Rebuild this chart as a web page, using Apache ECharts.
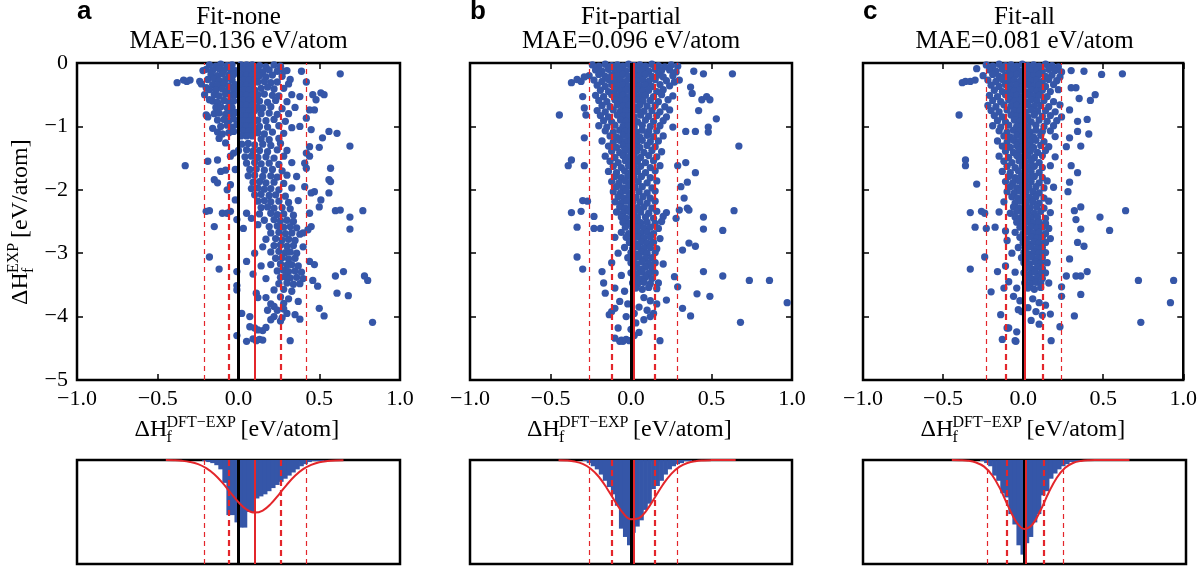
<!DOCTYPE html>
<html>
<head>
<meta charset="utf-8">
<script src="https://cdn.jsdelivr.net/npm/echarts/dist/echarts.min.js"></script>
<style>
  html, body { margin: 0; padding: 0; background: #fff; }
  #chart { width: 1200px; height: 566px; }
</style>
</head>
<body>
<div id="chart"></div>
<script>
// panel headings
const letters = ['a', 'b', 'c'];
const fitNames = ['Fit-none', 'Fit-partial', 'Fit-all'];
const maeLabels = ['MAE=0.136 eV/atom', 'MAE=0.096 eV/atom', 'MAE=0.081 eV/atom'];

// fitted mean and the +-1 / +-2 sigma lines
const meanLine = [0.105, 0.017, 0.005];
const innerDash = [[-0.055, 0.26], [-0.12, 0.153], [-0.11, 0.123]];
const outerDash = [[-0.21, 0.416], [-0.255, 0.288], [-0.23, 0.24]];

// tick labels
const xTickText = ['\u22121.0', '\u22120.5', '0.0', '0.5', '1.0'];
const yTickText = ['\u22125', '\u22124', '\u22123', '\u22122', '\u22121', '0'];

// ---- panel a : Fit-none ----
const aLeft = [[-0.18,-0.03],[-0.14,-0.05],[-0.11,-0.02],[-0.07,-0.04],[-0.04,-0.03],
  [-0.2,-0.1],[-0.16,-0.12],[-0.12,-0.09],[-0.09,-0.11],[-0.05,-0.1],[-0.02,-0.12],
  [-0.17,-0.18],[-0.13,-0.2],[-0.1,-0.17],[-0.06,-0.19],[-0.03,-0.18],
  [-0.19,-0.26],[-0.15,-0.25],[-0.12,-0.28],[-0.08,-0.26],[-0.04,-0.27],
  [-0.16,-0.34],[-0.13,-0.35],[-0.09,-0.33],[-0.06,-0.36],[-0.02,-0.34],
  [-0.18,-0.42],[-0.14,-0.43],[-0.1,-0.41],[-0.07,-0.44],[-0.03,-0.42],
  [-0.15,-0.5],[-0.12,-0.52],[-0.08,-0.49],[-0.05,-0.51],[-0.02,-0.5],
  [-0.16,-0.6],[-0.13,-0.62],[-0.09,-0.59],[-0.06,-0.61],[-0.03,-0.6],
  [-0.14,-0.7],[-0.11,-0.69],[-0.07,-0.71],[-0.04,-0.7],
  [-0.15,-0.8],[-0.12,-0.79],[-0.08,-0.81],[-0.05,-0.8],[-0.02,-0.78],
  [-0.13,-0.9],[-0.09,-0.89],[-0.06,-0.91],[-0.03,-0.88],
  [-0.11,-1.0],[-0.07,-0.98],[-0.04,-1.01],[-0.01,-0.97],[-0.06,-1.1],[-0.03,-1.08]];
const aCore = [[0.015,-0.03],[0.05,-0.03],[0.085,-0.03],[0.03,-0.11],[0.065,-0.11],[0.1,-0.11],
  [0.015,-0.19],[0.05,-0.19],[0.085,-0.19],[0.03,-0.27],[0.065,-0.27],[0.1,-0.27],
  [0.015,-0.35],[0.05,-0.35],[0.085,-0.35],[0.03,-0.43],[0.065,-0.43],[0.1,-0.43],
  [0.015,-0.51],[0.05,-0.51],[0.085,-0.51],[0.03,-0.59],[0.065,-0.59],[0.1,-0.59],
  [0.015,-0.67],[0.05,-0.67],[0.085,-0.67],[0.03,-0.75],[0.065,-0.75],[0.1,-0.75],
  [0.015,-0.83],[0.05,-0.83],[0.085,-0.83],[0.03,-0.91],[0.065,-0.91],[0.1,-0.91],
  [0.015,-0.99],[0.05,-0.99],[0.085,-0.99],[0.03,-1.07],[0.065,-1.07],[0.1,-1.07],
  [0.015,-1.15],[0.05,-1.15],[0.085,-1.15]];
const aRight = [[0.13,-0.04],[0.17,-0.06],[0.22,-0.03],[0.26,-0.05],
  [0.12,-0.12],[0.15,-0.14],[0.19,-0.11],[0.24,-0.13],[0.3,-0.12],
  [0.13,-0.2],[0.17,-0.22],[0.21,-0.19],[0.27,-0.21],
  [0.12,-0.3],[0.16,-0.29],[0.2,-0.31],[0.24,-0.3],[0.31,-0.33],
  [0.14,-0.4],[0.18,-0.38],[0.22,-0.41],[0.28,-0.4],
  [0.12,-0.5],[0.16,-0.49],[0.21,-0.51],[0.25,-0.52],[0.33,-0.5],
  [0.13,-0.6],[0.18,-0.62],[0.23,-0.59],[0.3,-0.61],
  [0.12,-0.7],[0.15,-0.71],[0.2,-0.69],[0.27,-0.72],[0.35,-0.7],
  [0.14,-0.8],[0.19,-0.79],[0.24,-0.81],[0.31,-0.8],
  [0.12,-0.9],[0.17,-0.91],[0.22,-0.89],[0.29,-0.92],
  [0.13,-1.0],[0.18,-1.01],[0.25,-0.99],[0.33,-1.02],
  [0.12,-1.1],[0.16,-1.12],[0.21,-1.09],[0.28,-1.11],
  [0.14,-1.2],[0.19,-1.21],[0.25,-1.19]];
const aBand = [[0.02,-1.28],[0.06,-1.27],[0.1,-1.29],[0.15,-1.28],[0.2,-1.3],[0.26,-1.27],
  [0.0,-1.38],[0.05,-1.37],[0.09,-1.39],[0.13,-1.38],[0.18,-1.4],[0.24,-1.37],[0.3,-1.38],
  [0.04,-1.48],[0.08,-1.47],[0.12,-1.49],[0.17,-1.48],[0.22,-1.5],[0.28,-1.47],
  [0.05,-1.58],[0.1,-1.57],[0.14,-1.59],[0.19,-1.58],[0.25,-1.6],[0.33,-1.57],
  [0.07,-1.68],[0.11,-1.67],[0.16,-1.69],[0.21,-1.68],[0.27,-1.7],
  [0.06,-1.78],[0.1,-1.77],[0.15,-1.79],[0.2,-1.78],[0.24,-1.8],[0.3,-1.77],[0.36,-1.79],
  [0.09,-1.88],[0.13,-1.87],[0.17,-1.89],[0.22,-1.88],[0.28,-1.9],
  [0.08,-1.98],[0.12,-1.97],[0.16,-1.99],[0.2,-1.98],[0.25,-2.0],[0.33,-1.97],
  [0.1,-2.08],[0.14,-2.07],[0.19,-2.09],[0.23,-2.08],[0.29,-2.1],
  [0.12,-2.18],[0.16,-2.17],[0.2,-2.19],[0.25,-2.18],[0.31,-2.2],[0.37,-2.17],
  [0.14,-2.28],[0.18,-2.27],[0.22,-2.29],[0.27,-2.28],[0.32,-2.3],
  [0.13,-2.38],[0.2,-2.37],[0.24,-2.39],[0.28,-2.38],[0.34,-2.4]];
const aLow = [[0.16,-2.48],[0.22,-2.47],[0.26,-2.49],[0.3,-2.48],[0.34,-2.5],
  [0.19,-2.58],[0.24,-2.57],[0.28,-2.59],[0.32,-2.58],[0.36,-2.6],
  [0.2,-2.68],[0.25,-2.67],[0.29,-2.69],[0.33,-2.68],[0.38,-2.7],
  [0.17,-2.78],[0.23,-2.77],[0.27,-2.79],[0.31,-2.78],[0.35,-2.8],
  [0.22,-2.88],[0.26,-2.87],[0.3,-2.89],[0.34,-2.88],[0.4,-2.9],
  [0.2,-2.98],[0.25,-2.97],[0.29,-2.99],[0.32,-2.98],[0.36,-3.0],
  [0.23,-3.08],[0.27,-3.07],[0.31,-3.09],[0.35,-3.08],
  [0.2,-3.18],[0.26,-3.17],[0.3,-3.19],[0.33,-3.18],[0.37,-3.2],
  [0.24,-3.28],[0.28,-3.27],[0.31,-3.29],[0.35,-3.28],[0.39,-3.3],
  [0.26,-3.38],[0.29,-3.37],[0.32,-3.39],[0.36,-3.38],[0.4,-3.4],
  [0.25,-3.48],[0.3,-3.47],[0.34,-3.49],[0.38,-3.48],
  [0.22,-3.58],[0.28,-3.57],[0.33,-3.6],[0.17,-3.7],[0.26,-3.69],[0.31,-3.72],
  [0.2,-3.8],[0.28,-3.79],[0.12,-2.55],[0.15,-2.9],[0.1,-3.0],[0.14,-3.2],[0.17,-3.4],[0.12,-3.7]];
const aOut = [[-0.38,-0.31],[-0.34,-0.27],[-0.32,-0.29],[-0.3,-0.27],[-0.24,-0.29],[-0.23,-0.33],
  [-0.22,-0.12],[-0.2,-0.39],[-0.21,-0.5],[-0.18,-0.58],[-0.2,-0.82],[-0.19,-0.85],[-0.16,-1.03],
  [-0.13,-1.09],[-0.12,-1.19],[-0.1,-1.12],[-0.08,-1.26],
  [-0.33,-1.62],[-0.19,-1.55],[-0.13,-1.53],[-0.11,-1.71],[-0.08,-1.69],[-0.05,-1.47],[-0.03,-1.42],
  [-0.02,-1.68],[-0.15,-1.84],[-0.13,-1.89],[-0.07,-2.0],[-0.05,-1.92],[-0.2,-2.34],[-0.18,-2.33],
  [-0.15,-2.58],[-0.1,-2.37],[-0.07,-2.37],[-0.05,-2.34],[-0.02,-2.16],[-0.01,-2.47],[0.03,-2.61],
  [0.05,-2.37],[0.08,-2.45],[-0.18,-3.06],[-0.12,-3.25],[-0.01,-3.29],[-0.01,-3.51],[-0.01,-3.58],
  [0.05,-3.13],[0.09,-3.33],[0.11,-3.63],
  [0.02,-3.95],[0.07,-4.0],[0.07,-4.16],[0.09,-4.35],[0.11,-4.38],[0.13,-4.36],[0.15,-4.37],
  [-0.01,-4.3],[0.05,-4.39],[0.1,-4.18],[0.15,-4.22],[0.17,-4.17],[0.22,-3.84],[0.22,-4.0],
  [0.26,-4.07],[0.27,-4.02],[0.32,-4.38],[0.3,-3.95],[0.35,-3.97],[0.37,-3.76],[0.38,-4.04],
  [0.12,-4.21],[0.18,-3.9],[0.2,-4.05],[0.24,-3.9],[0.28,-3.88],
  [0.28,-0.13],[0.32,-0.26],[0.39,-0.13],[0.42,-0.3],[0.38,-0.53],[0.46,-0.5],[0.48,-0.58],
  [0.51,-0.47],[0.53,-0.5],[0.44,-0.74],[0.47,-0.74],[0.42,-0.87],[0.38,-1.0],[0.45,-1.05],
  [0.52,-1.18],[0.56,-1.08],[0.61,-1.11],[0.63,-0.17],[0.69,-1.31],[0.44,-1.32],[0.5,-1.33],
  [0.42,-1.42],[0.41,-1.58],[0.42,-1.66],[0.44,-1.47],[0.56,-1.84],[0.57,-1.66],[0.57,-1.87],
  [0.56,-2.05],[0.47,-2.03],[0.51,-2.16],[0.5,-2.27],[0.45,-2.05],[0.41,-1.95],[0.6,-2.33],
  [0.63,-2.32],[0.69,-2.43],[0.69,-2.62],[0.77,-2.33],[0.44,-2.37],[0.45,-2.58],[0.43,-2.63],
  [0.4,-2.68],[0.44,-3.13],[0.46,-3.43],[0.5,-3.87],[0.53,-3.99],[0.6,-3.36],[0.61,-3.63],
  [0.65,-3.29],[0.68,-3.67],[0.78,-3.36],[0.8,-3.43],[0.83,-4.09],[0.49,-3.52],[0.47,-3.18]];

// ---- panel b : Fit-partial ----
const bTop = [[-0.24,-0.03],[-0.2,-0.05],[-0.16,-0.02],[-0.12,-0.04],[-0.085,-0.03],[-0.05,-0.05],[-0.015,-0.02],[0.02,-0.04],[0.055,-0.03],[0.09,-0.05],[0.13,-0.02],[0.17,-0.04],[0.21,-0.06],[0.25,-0.03],[0.29,-0.05],
  [-0.22,-0.11],[-0.18,-0.13],[-0.14,-0.1],[-0.1,-0.12],[-0.065,-0.11],[-0.03,-0.13],[0.005,-0.1],[0.04,-0.12],[0.075,-0.11],[0.11,-0.13],[0.15,-0.1],[0.19,-0.12],[0.24,-0.11],[0.28,-0.14],
  [-0.26,-0.2],[-0.2,-0.18],[-0.16,-0.21],[-0.12,-0.19],[-0.085,-0.2],[-0.05,-0.18],[-0.015,-0.21],[0.02,-0.19],[0.055,-0.2],[0.09,-0.18],[0.13,-0.21],[0.17,-0.19],[0.2,-0.22],[0.26,-0.2],
  [-0.23,-0.27],[-0.18,-0.29],[-0.14,-0.26],[-0.1,-0.28],[-0.065,-0.27],[-0.03,-0.29],[0.005,-0.26],[0.04,-0.28],[0.075,-0.27],[0.11,-0.29],[0.15,-0.26],[0.22,-0.28],[0.27,-0.3],
  [-0.21,-0.35],[-0.16,-0.37],[-0.12,-0.34],[-0.085,-0.36],[-0.05,-0.35],[-0.015,-0.37],[0.02,-0.34],[0.055,-0.36],[0.09,-0.35],[0.13,-0.37],[0.18,-0.34],[0.24,-0.36],
  [-0.19,-0.43],[-0.14,-0.45],[-0.1,-0.42],[-0.065,-0.44],[-0.03,-0.43],[0.005,-0.45],[0.04,-0.42],[0.075,-0.44],[0.11,-0.43],[0.16,-0.45],[0.2,-0.42],
  [-0.22,-0.51],[-0.17,-0.53],[-0.12,-0.5],[-0.085,-0.52],[-0.05,-0.51],[-0.015,-0.53],[0.02,-0.5],[0.055,-0.52],[0.09,-0.51],[0.14,-0.53],[0.19,-0.5],[0.26,-0.52],
  [-0.2,-0.59],[-0.15,-0.61],[-0.1,-0.58],[-0.065,-0.6],[-0.03,-0.59],[0.005,-0.61],[0.04,-0.58],[0.075,-0.6],[0.12,-0.59],[0.17,-0.61],[0.23,-0.58],
  [-0.18,-0.67],[-0.13,-0.69],[-0.085,-0.66],[-0.05,-0.68],[-0.015,-0.67],[0.02,-0.69],[0.055,-0.66],[0.1,-0.68],[0.15,-0.67],[0.21,-0.69],
  [-0.21,-0.75],[-0.16,-0.77],[-0.11,-0.74],[-0.065,-0.76],[-0.03,-0.75],[0.005,-0.77],[0.04,-0.74],[0.08,-0.76],[0.13,-0.75],[0.18,-0.77],[0.24,-0.74],
  [-0.19,-0.83],[-0.14,-0.85],[-0.085,-0.82],[-0.05,-0.84],[-0.015,-0.83],[0.02,-0.85],[0.06,-0.82],[0.11,-0.84],[0.16,-0.83],[0.22,-0.85],
  [-0.17,-0.91],[-0.12,-0.93],[-0.065,-0.9],[-0.03,-0.92],[0.005,-0.91],[0.04,-0.93],[0.09,-0.9],[0.14,-0.92],[0.2,-0.91],
  [-0.2,-0.99],[-0.15,-1.01],[-0.1,-0.98],[-0.05,-1.0],[-0.015,-0.99],[0.02,-1.01],[0.07,-0.98],[0.12,-1.0],[0.18,-0.99],[0.26,-1.01]];
const bMid = [[-0.16,-1.07],[-0.11,-1.09],[-0.07,-1.06],[-0.035,-1.08],[0.0,-1.07],[0.035,-1.09],[0.07,-1.06],[0.11,-1.08],[0.16,-1.07],
  [-0.13,-1.15],[-0.09,-1.17],[-0.05,-1.14],[-0.015,-1.16],[0.02,-1.15],[0.055,-1.17],[0.1,-1.14],[0.14,-1.16],[0.2,-1.15],
  [-0.18,-1.23],[-0.11,-1.25],[-0.07,-1.22],[-0.035,-1.24],[0.0,-1.23],[0.035,-1.25],[0.07,-1.22],[0.12,-1.24],[0.17,-1.23],
  [-0.14,-1.31],[-0.09,-1.33],[-0.05,-1.3],[-0.015,-1.32],[0.02,-1.31],[0.055,-1.33],[0.1,-1.3],[0.15,-1.32],
  [-0.12,-1.39],[-0.07,-1.41],[-0.035,-1.38],[0.0,-1.4],[0.035,-1.39],[0.08,-1.41],[0.13,-1.38],[0.19,-1.4],
  [-0.16,-1.47],[-0.1,-1.49],[-0.05,-1.46],[-0.015,-1.48],[0.02,-1.47],[0.06,-1.49],[0.11,-1.46],[0.16,-1.48],
  [-0.13,-1.55],[-0.08,-1.57],[-0.035,-1.54],[0.0,-1.56],[0.04,-1.55],[0.09,-1.57],[0.14,-1.54],
  [-0.11,-1.63],[-0.06,-1.65],[-0.015,-1.62],[0.02,-1.64],[0.06,-1.63],[0.12,-1.65],[0.18,-1.62],
  [-0.14,-1.71],[-0.09,-1.73],[-0.04,-1.7],[0.0,-1.72],[0.04,-1.71],[0.09,-1.73],[0.15,-1.7],
  [-0.1,-1.79],[-0.06,-1.81],[-0.02,-1.78],[0.02,-1.8],[0.065,-1.79],[0.12,-1.81],
  [-0.12,-1.87],[-0.075,-1.89],[-0.035,-1.86],[0.0,-1.88],[0.045,-1.87],[0.1,-1.89],[0.16,-1.86],
  [-0.09,-1.95],[-0.05,-1.97],[-0.015,-1.94],[0.025,-1.96],[0.07,-1.95],[0.13,-1.97],
  [-0.11,-2.03],[-0.065,-2.05],[-0.03,-2.02],[0.005,-2.04],[0.05,-2.03],[0.1,-2.05],[0.15,-2.02],
  [-0.08,-2.11],[-0.045,-2.13],[-0.01,-2.1],[0.03,-2.12],[0.075,-2.11],[0.12,-2.13],
  [-0.1,-2.19],[-0.06,-2.21],[-0.025,-2.18],[0.01,-2.2],[0.055,-2.19],[0.1,-2.21],[0.15,-2.18],
  [-0.07,-2.27],[-0.035,-2.29],[0.0,-2.26],[0.04,-2.28],[0.08,-2.27],[0.13,-2.29],
  [-0.09,-2.35],[-0.05,-2.37],[-0.015,-2.34],[0.02,-2.36],[0.06,-2.35],[0.11,-2.37],[0.16,-2.34],[0.22,-2.36],
  [-0.06,-2.43],[-0.03,-2.45],[0.005,-2.42],[0.04,-2.44],[0.09,-2.43],[0.14,-2.45],[0.2,-2.42]];
const bLow = [[-0.05,-2.51],[-0.01,-2.53],[0.025,-2.5],[0.06,-2.52],[0.1,-2.51],[0.15,-2.53],[0.19,-2.5],
  [-0.035,-2.59],[0.01,-2.61],[0.045,-2.58],[0.08,-2.6],[0.12,-2.59],[0.17,-2.61],
  [-0.06,-2.67],[-0.015,-2.69],[0.025,-2.66],[0.06,-2.68],[0.1,-2.67],[0.14,-2.69],
  [-0.03,-2.75],[0.01,-2.77],[0.045,-2.74],[0.08,-2.76],[0.12,-2.75],[0.18,-2.77],
  [-0.01,-2.83],[0.03,-2.85],[0.065,-2.82],[0.1,-2.84],[0.14,-2.83],
  [-0.04,-2.91],[0.01,-2.93],[0.045,-2.9],[0.08,-2.92],[0.12,-2.91],[0.16,-2.93],
  [0.0,-2.99],[0.03,-3.01],[0.065,-2.98],[0.1,-3.0],[0.15,-2.99],
  [-0.02,-3.07],[0.015,-3.09],[0.05,-3.06],[0.09,-3.08],[0.13,-3.07],
  [0.0,-3.15],[0.035,-3.17],[0.07,-3.14],[0.11,-3.16],[0.15,-3.15],[0.2,-3.17],
  [0.02,-3.23],[0.055,-3.25],[0.09,-3.22],[0.13,-3.24],
  [0.0,-3.31],[0.035,-3.33],[0.07,-3.3],[0.11,-3.32],[0.15,-3.31],
  [0.02,-3.39],[0.055,-3.41],[0.09,-3.38],[0.13,-3.4],
  [0.01,-3.47],[0.04,-3.49],[0.08,-3.46],[0.12,-3.48],[0.17,-3.47],
  [0.03,-3.55],[0.07,-3.57],[0.11,-3.54],[0.16,-3.56],
  [0.08,-3.7],[0.12,-3.75],[0.16,-3.8],[0.05,-3.85],[0.1,-3.9],[-0.02,-3.8],[0.02,-3.95],[0.14,-3.95],
  [0.03,-4.1],[0.0,-4.2],[0.05,-4.25],[0.12,-4.0],[0.02,-4.3],[-0.03,-4.0],[0.08,-4.05],
  [-0.1,-2.75],[-0.08,-3.0],[-0.12,-3.15],[-0.06,-3.35],[-0.1,-3.55],[-0.04,-3.6]];
const bOut = [[-0.445,-0.82],[-0.37,-0.31],[-0.335,-0.26],[-0.31,-0.29],[-0.29,-0.22],[-0.3,-0.53],
  [-0.29,-0.71],[-0.28,-0.82],[-0.29,-1.18],[-0.39,-1.62],[-0.37,-1.53],[-0.29,-1.62],[-0.3,-2.17],
  [-0.27,-2.18],[-0.37,-2.36],[-0.31,-2.34],[-0.335,-2.59],[-0.23,-2.42],[-0.23,-2.61],[-0.19,-2.61],
  [-0.335,-3.06],[-0.3,-3.25],[-0.18,-3.29],[-0.17,-3.47],[-0.16,-3.63],[-0.135,-3.97],[-0.12,-3.92],
  [-0.1,-3.87],[-0.07,-3.76],[-0.07,-4.39],[-0.06,-4.37],[-0.05,-4.39],[-0.03,-4.36],[-0.01,-4.38],
  [-0.1,-4.34],[-0.08,-4.18],
  [0.39,-0.13],[0.45,-0.17],[0.63,-0.17],[0.3,-0.27],[0.37,-0.38],[0.38,-0.48],[0.44,-0.58],
  [0.47,-0.53],[0.49,-0.58],[0.53,-0.88],[0.42,-0.75],[0.34,-1.08],[0.4,-1.08],[0.48,-1.01],
  [0.48,-1.09],[0.67,-1.31],[0.34,-1.57],[0.4,-1.73],[0.29,-1.62],[0.35,-1.88],[0.31,-1.95],
  [0.33,-2.13],[0.35,-2.29],[0.36,-2.32],[0.45,-2.43],[0.45,-2.62],[0.57,-2.64],[0.64,-2.33],
  [0.3,-2.32],[0.28,-2.45],[0.32,-2.95],[0.36,-2.84],[0.4,-2.89],[0.27,-3.37],[0.29,-3.53],
  [0.45,-3.29],[0.57,-3.36],[0.735,-3.43],[0.86,-3.43],[0.97,-3.78],[0.68,-4.09],[0.41,-3.64],
  [0.49,-3.68],[0.32,-3.87],[0.37,-3.99],[0.22,-3.74],[0.18,-4.38]];

// ---- panel c : Fit-all ----
const cTop = [[-0.23,-0.03],[-0.19,-0.05],[-0.15,-0.02],[-0.11,-0.04],[-0.075,-0.03],[-0.04,-0.05],[-0.005,-0.02],[0.03,-0.04],[0.065,-0.03],[0.1,-0.05],[0.14,-0.02],[0.18,-0.04],[0.22,-0.06],
  [-0.21,-0.11],[-0.17,-0.13],[-0.13,-0.1],[-0.09,-0.12],[-0.055,-0.11],[-0.02,-0.13],[0.015,-0.1],[0.05,-0.12],[0.085,-0.11],[0.12,-0.13],[0.16,-0.1],[0.2,-0.12],[0.24,-0.14],
  [-0.25,-0.2],[-0.19,-0.18],[-0.15,-0.21],[-0.11,-0.19],[-0.075,-0.2],[-0.04,-0.18],[-0.005,-0.21],[0.03,-0.19],[0.065,-0.2],[0.1,-0.18],[0.14,-0.21],[0.18,-0.19],[0.23,-0.22],
  [-0.22,-0.27],[-0.17,-0.29],[-0.13,-0.26],[-0.09,-0.28],[-0.055,-0.27],[-0.02,-0.29],[0.015,-0.26],[0.05,-0.28],[0.085,-0.27],[0.12,-0.29],[0.16,-0.26],[0.21,-0.28],
  [-0.2,-0.35],[-0.15,-0.37],[-0.11,-0.34],[-0.075,-0.36],[-0.04,-0.35],[-0.005,-0.37],[0.03,-0.34],[0.065,-0.36],[0.1,-0.35],[0.14,-0.37],[0.19,-0.34],
  [-0.18,-0.43],[-0.13,-0.45],[-0.09,-0.42],[-0.055,-0.44],[-0.02,-0.43],[0.015,-0.45],[0.05,-0.42],[0.085,-0.44],[0.12,-0.43],[0.17,-0.45],[0.22,-0.42],
  [-0.21,-0.51],[-0.16,-0.53],[-0.11,-0.5],[-0.075,-0.52],[-0.04,-0.51],[-0.005,-0.53],[0.03,-0.5],[0.065,-0.52],[0.1,-0.51],[0.15,-0.53],
  [-0.19,-0.59],[-0.14,-0.61],[-0.09,-0.58],[-0.055,-0.6],[-0.02,-0.59],[0.015,-0.61],[0.05,-0.58],[0.085,-0.6],[0.13,-0.59],[0.19,-0.61],
  [-0.22,-0.67],[-0.17,-0.69],[-0.12,-0.66],[-0.075,-0.68],[-0.04,-0.67],[-0.005,-0.69],[0.03,-0.66],[0.07,-0.68],[0.11,-0.67],[0.16,-0.69],[0.23,-0.66],
  [-0.2,-0.75],[-0.15,-0.77],[-0.1,-0.74],[-0.055,-0.76],[-0.02,-0.75],[0.015,-0.77],[0.05,-0.74],[0.09,-0.76],[0.14,-0.75],[0.2,-0.77],
  [-0.18,-0.83],[-0.13,-0.85],[-0.075,-0.82],[-0.04,-0.84],[-0.005,-0.83],[0.03,-0.85],[0.07,-0.82],[0.12,-0.84],[0.17,-0.83],[0.24,-0.85],
  [-0.16,-0.91],[-0.11,-0.93],[-0.055,-0.9],[-0.02,-0.92],[0.015,-0.91],[0.05,-0.93],[0.1,-0.9],[0.15,-0.92],[0.21,-0.91],
  [-0.19,-0.99],[-0.14,-1.01],[-0.09,-0.98],[-0.04,-1.0],[-0.005,-0.99],[0.03,-1.01],[0.08,-0.98],[0.13,-1.0],[0.19,-0.99]];
const cMid = [[-0.15,-1.07],[-0.1,-1.09],[-0.06,-1.06],[-0.025,-1.08],[0.01,-1.07],[0.045,-1.09],[0.08,-1.06],[0.12,-1.08],[0.17,-1.07],
  [-0.12,-1.15],[-0.08,-1.17],[-0.04,-1.14],[-0.005,-1.16],[0.03,-1.15],[0.065,-1.17],[0.11,-1.14],[0.2,-1.16],
  [-0.16,-1.23],[-0.1,-1.25],[-0.06,-1.22],[-0.025,-1.24],[0.01,-1.23],[0.045,-1.25],[0.08,-1.22],[0.13,-1.24],
  [-0.13,-1.31],[-0.08,-1.33],[-0.04,-1.3],[-0.005,-1.32],[0.03,-1.31],[0.065,-1.33],[0.11,-1.3],[0.16,-1.32],
  [-0.11,-1.39],[-0.06,-1.41],[-0.025,-1.38],[0.01,-1.4],[0.045,-1.39],[0.09,-1.41],[0.14,-1.38],
  [-0.15,-1.47],[-0.09,-1.49],[-0.04,-1.46],[-0.005,-1.48],[0.03,-1.47],[0.07,-1.49],[0.12,-1.46],[0.2,-1.48],
  [-0.12,-1.55],[-0.07,-1.57],[-0.025,-1.54],[0.01,-1.56],[0.05,-1.55],[0.1,-1.57],
  [-0.1,-1.63],[-0.05,-1.65],[-0.005,-1.62],[0.03,-1.64],[0.07,-1.63],[0.12,-1.65],[0.17,-1.62],
  [-0.13,-1.71],[-0.08,-1.73],[-0.03,-1.7],[0.01,-1.72],[0.05,-1.71],[0.1,-1.73],
  [-0.09,-1.79],[-0.05,-1.81],[-0.01,-1.78],[0.03,-1.8],[0.07,-1.79],[0.12,-1.81],
  [-0.11,-1.87],[-0.065,-1.89],[-0.025,-1.86],[0.01,-1.88],[0.05,-1.87],[0.1,-1.89],[0.15,-1.86],
  [-0.08,-1.95],[-0.04,-1.97],[-0.005,-1.94],[0.035,-1.96],[0.08,-1.95],[0.13,-1.97],
  [-0.1,-2.03],[-0.055,-2.05],[-0.02,-2.02],[0.015,-2.04],[0.06,-2.03],[0.1,-2.05],
  [-0.07,-2.11],[-0.035,-2.13],[0.0,-2.1],[0.04,-2.12],[0.08,-2.11],[0.13,-2.13],
  [-0.12,-2.19],[-0.05,-2.21],[-0.015,-2.18],[0.02,-2.2],[0.06,-2.19],[0.1,-2.21],[0.16,-2.18],
  [-0.06,-2.27],[-0.025,-2.29],[0.01,-2.26],[0.045,-2.28],[0.085,-2.27],[0.13,-2.29],
  [-0.15,-2.35],[-0.08,-2.37],[-0.04,-2.34],[-0.005,-2.36],[0.03,-2.35],[0.07,-2.37],[0.11,-2.34],[0.17,-2.36],
  [-0.05,-2.43],[-0.02,-2.45],[0.015,-2.42],[0.05,-2.44],[0.09,-2.43],[0.14,-2.45]];
const cLow = [[-0.04,-2.51],[0.0,-2.53],[0.03,-2.5],[0.065,-2.52],[0.1,-2.51],[0.14,-2.53],
  [-0.02,-2.59],[0.015,-2.61],[0.05,-2.58],[0.085,-2.6],[0.12,-2.59],[0.16,-2.61],
  [-0.05,-2.67],[0.0,-2.69],[0.03,-2.66],[0.065,-2.68],[0.1,-2.67],[0.14,-2.69],
  [-0.02,-2.75],[0.015,-2.77],[0.05,-2.74],[0.085,-2.76],[0.12,-2.75],[0.17,-2.77],
  [0.0,-2.83],[0.035,-2.85],[0.07,-2.82],[0.1,-2.84],[0.14,-2.83],
  [-0.03,-2.91],[0.015,-2.93],[0.05,-2.9],[0.085,-2.92],[0.12,-2.91],
  [0.005,-2.99],[0.035,-3.01],[0.07,-2.98],[0.1,-3.0],[0.14,-2.99],
  [-0.01,-3.07],[0.02,-3.09],[0.055,-3.06],[0.09,-3.08],[0.12,-3.07],
  [0.005,-3.15],[0.04,-3.17],[0.075,-3.14],[0.11,-3.16],[0.15,-3.15],
  [0.02,-3.23],[0.055,-3.25],[0.09,-3.22],[0.12,-3.24],
  [0.005,-3.31],[0.04,-3.33],[0.075,-3.3],[0.11,-3.32],[0.14,-3.31],
  [0.02,-3.39],[0.055,-3.41],[0.09,-3.38],[0.12,-3.4],
  [0.01,-3.47],[0.045,-3.49],[0.08,-3.46],[0.11,-3.48],[0.16,-3.47],
  [0.03,-3.55],[0.07,-3.57],[0.11,-3.54],
  [0.06,-3.72],[0.1,-3.78],[0.14,-3.82],[0.03,-3.86],[0.08,-3.92],[-0.02,-3.75],[0.12,-3.98],
  [0.05,-4.06],[0.1,-4.12],[-0.06,-3.68],
  [-0.1,-2.8],[-0.07,-3.0],[-0.11,-3.2],[-0.05,-3.3],[-0.09,-3.45],[-0.04,-3.55],[-0.11,-2.65],[-0.12,-3.55]];
const cOut = [[-0.38,-0.31],[-0.36,-0.29],[-0.33,-0.29],[-0.3,-0.27],[-0.4,-0.82],[-0.36,-1.53],
  [-0.36,-1.62],[-0.29,-1.91],[-0.33,-2.36],[-0.26,-2.34],[-0.24,-2.37],[-0.3,-2.59],[-0.23,-2.61],
  [-0.175,-2.59],[-0.24,-3.06],[-0.33,-3.25],[-0.16,-3.29],[-0.2,-3.61],[-0.14,-3.97],[-0.1,-4.18],
  [-0.09,-4.18],[-0.13,-4.36],[-0.05,-4.38],[-0.045,-4.39],[-0.04,-4.24],[-0.03,-3.89],[-0.01,-3.92],
  [-0.29,-0.09],
  [0.3,-0.12],[0.38,-0.13],[0.49,-0.18],[0.62,-0.17],[0.33,-0.39],[0.3,-0.39],[0.35,-0.56],
  [0.42,-0.59],[0.45,-0.5],[0.29,-0.74],[0.34,-0.92],[0.4,-0.89],[0.41,-1.12],[0.34,-1.08],
  [0.36,-1.31],[0.29,-1.18],[0.27,-1.32],[0.3,-1.62],[0.34,-1.73],[0.29,-1.88],[0.28,-2.03],
  [0.19,-1.96],[0.36,-2.27],[0.32,-2.33],[0.33,-2.47],[0.36,-2.62],[0.48,-2.43],[0.54,-2.64],
  [0.64,-2.33],[0.34,-2.83],[0.38,-2.89],[0.29,-3.09],[0.27,-3.36],[0.33,-3.36],[0.36,-3.36],
  [0.4,-3.29],[0.36,-3.65],[0.32,-3.99],[0.72,-3.43],[0.94,-3.43],[0.92,-3.78],[0.735,-4.09],
  [0.24,-3.53],[0.24,-3.68],[0.175,-4.38],[0.23,-4.16],[0.17,-3.96]];

// ---- histograms (bin centre, depth in % of the box) ----
const binWidth = 0.025;
const binsA = [-0.2125,-0.1875,-0.1625,-0.1375,-0.1125,-0.0875,-0.0625,-0.0375,-0.0125,0.0125,0.0375,0.0625,0.0875,0.1125,0.1375,0.1625,0.1875,0.2125,0.2375,0.2625,0.2875,0.3125,0.3375,0.3625,0.3875,0.4125,0.4375,0.4625,0.4875,0.5125,0.5375,0.5625,0.5875,0.6125];
const depthA = [1,2,3,5,9,22,53,53,60,65,65,50,50,37,35,33,30,27,24,21,18,15,12,9,6,4,2,1,1,1,0.6,0.6,0.6,0.6];
const binsB = [-0.2875,-0.2625,-0.2375,-0.2125,-0.1875,-0.1625,-0.1375,-0.1125,-0.0875,-0.0625,-0.0375,-0.0125,0.0125,0.0375,0.0625,0.0875,0.1125,0.1375,0.1625,0.1875,0.2125,0.2375,0.2625,0.2875,0.3125,0.3375,0.3625];
const depthB = [1,3,6,9,14,20,26,33,44,66,74,82,70,64,58,48,42,28,25,20,14,9,6,4,3,1,1];
const binsC = [-0.2625,-0.2375,-0.2125,-0.1875,-0.1625,-0.1375,-0.1125,-0.0875,-0.0625,-0.0375,-0.0125,0.0125,0.0375,0.0625,0.0875,0.1125,0.1375,0.1625,0.1875,0.2125,0.2375,0.2625,0.2875,0.3125,0.3375,0.3625];
const depthC = [1,3,6,15,20,32,36,52,62,82,91,80,74,60,52,34,30,18,13,9,6,4,2,2,1,1];

// fitted curves
const curveX = [-0.45,-0.4,-0.35,-0.3,-0.25,-0.2,-0.15,-0.1,-0.05,0,0.05,0.1,0.15,0.2,0.25,0.3,0.35,0.4,0.45,0.5,0.55,0.6,0.65];
const curveA = [0.1,0.3,0.8,1.9,4.0,7.8,13.7,21.8,31.3,40.6,47.6,50.6,48.6,42.2,33.2,23.6,15.2,8.8,4.7,2.2,1.0,0.4,0.2];
const curveB = [0.2,0.5,1.5,3.8,8.4,16.1,27.1,39.7,50.9,57.0,55.8,47.7,35.6,23.3,13.3,6.6,2.9,1.1,0.4,0.1,0,0,0];
const curveC = [0.05,0.2,0.7,2.4,6.4,14.7,28.0,44.8,59.7,66.4,61.8,48.1,31.3,17.0,7.7,2.9,0.9,0.2,0.05,0,0,0,0];

const blue = '#3556a8';
const red = '#e3262b';
const serif = '"Liberation Serif", "Times New Roman", serif';

const points = [
  aLeft.concat(aCore, aRight, aBand, aLow, aOut),
  bTop.concat(bMid, bLow, bOut),
  cTop.concat(cMid, cLow, cOut)
];
const hist = [[binsA, depthA], [binsB, depthB], [binsC, depthC]];
const curves = [curveA, curveB, curveC];

const panelLeft = [77, 470, 863];
const panelWidth = [323, 322, 323];

function refLines(i) {
  const d = [];
  outerDash[i].forEach(v => d.push({ xAxis: v, lineStyle: { color: red, width: 1.2, type: [5, 4] } }));
  innerDash[i].forEach(v => d.push({ xAxis: v, lineStyle: { color: red, width: 2.2, type: [6, 4] } }));
  d.push({ xAxis: 0, lineStyle: { color: '#000', width: 3, type: 'solid' } });
  d.push({ xAxis: meanLine[i], lineStyle: { color: red, width: 2, type: 'solid' } });
  return {
    silent: true, animation: false, symbol: ['none', 'none'],
    label: { show: false }, emphasis: { disabled: true }, data: d
  };
}

// one histogram bar hanging from the top edge, placed through the axes
function histBar(params, api) {
  const x = api.value(0), h = api.value(1);
  const p0 = api.coord([x - binWidth / 2, 0]);
  const p1 = api.coord([x + binWidth / 2, h]);
  return { type: 'rect',
    shape: { x: p0[0], y: p0[1], width: p1[0] - p0[0] + 0.7, height: p1[1] - p0[1] },
    style: { fill: blue } };
}

const tick = { show: true, inside: true, length: 6, lineStyle: { color: '#000', width: 1.5 } };
const noLine = { show: false, onZero: false };
const grids = [], xAxes = [], yAxes = [], series = [], graphics = [];

for (let i = 0; i < 3; i++) {
  grids.push({ left: panelLeft[i], top: 63, width: panelWidth[i], height: 317,
    show: true, borderColor: '#000', borderWidth: 2.5 });
}
for (let i = 0; i < 3; i++) {
  grids.push({ left: panelLeft[i], top: 460, width: panelWidth[i], height: 104,
    show: true, borderColor: '#000', borderWidth: 2.5 });
}

// x axes: 0-2 bottom of scatter, 3-5 top of scatter, 6-8 histograms
for (let i = 0; i < 3; i++) {
  xAxes.push({ type: 'value', gridIndex: i, min: -1, max: 1, interval: 0.5, position: 'bottom',
    axisLine: noLine, splitLine: { show: false }, axisTick: tick,
    axisLabel: { margin: 8, color: '#000', fontFamily: serif, fontSize: 22,
      formatter: v => xTickText[Math.round((v + 1) / 0.5)] } });
}
for (let i = 0; i < 3; i++) {
  xAxes.push({ type: 'value', gridIndex: i, min: -1, max: 1, interval: 0.5, position: 'top',
    axisLine: noLine, splitLine: { show: false }, axisTick: tick, axisLabel: { show: false } });
}
for (let i = 0; i < 3; i++) {
  xAxes.push({ type: 'value', gridIndex: 3 + i, min: -1, max: 1, show: false, axisLine: noLine });
}
// y axes: 0-2 left of scatter, 3-5 right of scatter, 6-8 histograms
for (let i = 0; i < 3; i++) {
  yAxes.push({ type: 'value', gridIndex: i, min: -5, max: 0, interval: 1, position: 'left',
    axisLine: noLine, splitLine: { show: false }, axisTick: tick,
    axisLabel: { show: i === 0, margin: 9, color: '#000', fontFamily: serif, fontSize: 22,
      formatter: v => yTickText[Math.round(v + 5)] } });
}
for (let i = 0; i < 3; i++) {
  yAxes.push({ type: 'value', gridIndex: i, min: -5, max: 0, interval: 1, position: 'right',
    axisLine: noLine, splitLine: { show: false }, axisTick: tick, axisLabel: { show: false } });
}
for (let i = 0; i < 3; i++) {
  yAxes.push({ type: 'value', gridIndex: 3 + i, min: 0, max: 100, inverse: true, show: false, axisLine: noLine });
}

for (let i = 0; i < 3; i++) {
  series.push({
    type: 'scatter', xAxisIndex: i, yAxisIndex: i, data: points[i],
    symbol: 'circle', symbolSize: 7.3, itemStyle: { color: blue, opacity: 1 },
    silent: true, z: 2, markLine: refLines(i)
  });
  series.push({
    type: 'custom', coordinateSystem: 'cartesian2d', xAxisIndex: 6 + i, yAxisIndex: 6 + i,
    encode: { x: 0, y: 1 }, renderItem: histBar,
    data: hist[i][0].map((b, k) => [b, hist[i][1][k]]),
    silent: true, z: 2, markLine: refLines(i)
  });
  series.push({
    type: 'line', xAxisIndex: 6 + i, yAxisIndex: 6 + i, smooth: 0.4, showSymbol: false,
    data: curveX.map((x, k) => [x, curves[i][k]]),
    lineStyle: { color: red, width: 2 }, silent: true, z: 6
  });
}

// composite axis title: ΔH with sub "f" and a superscript, then [eV/atom]
function axisTitle(cx, cy, rot, sup, start, supWidth) {
  const big = '24px ' + serif, small = '16px ' + serif;
  const t = (text, x, y, font) => ({ type: 'text', x: x, y: y,
    style: { text: text, font: font, fill: '#000', align: 'left', verticalAlign: 'middle',
      textAlign: 'left', textVerticalAlign: 'middle' } });
  return { type: 'group', x: cx, y: cy, rotation: rot, children: [
    t('\u0394H', start, 0, big),
    t('f', start + 32, 8, small),
    t(sup, start + 32, -7, small),
    t('[eV/atom]', start + 32 + supWidth + 4, 0, big)
  ] };
}

for (let i = 0; i < 3; i++) {
  const cx = panelLeft[i] + panelWidth[i] / 2;
  graphics.push({ type: 'text', x: panelLeft[i], y: 12,
    style: { text: letters[i], font: 'bold 26px "Liberation Sans", Arial, sans-serif', fill: '#000',
      align: 'left', verticalAlign: 'middle', textAlign: 'left', textVerticalAlign: 'middle' } });
  graphics.push({ type: 'text', x: cx, y: 17,
    style: { text: fitNames[i], font: '25px ' + serif, fill: '#000',
      align: 'center', verticalAlign: 'middle', textAlign: 'center', textVerticalAlign: 'middle' } });
  graphics.push({ type: 'text', x: cx, y: 41,
    style: { text: maeLabels[i], font: '25px ' + serif, fill: '#000',
      align: 'center', verticalAlign: 'middle', textAlign: 'center', textVerticalAlign: 'middle' } });
  graphics.push(axisTitle(cx, 430, 0, 'DFT\u2212EXP', -104, 70));
}
graphics.push(axisTitle(21, 221, Math.PI / 2, 'EXP', -84, 31));

const chart = echarts.init(document.getElementById('chart'), null, { renderer: 'canvas' });
chart.setOption({
  animation: false,
  backgroundColor: '#fff',
  grid: grids,
  xAxis: xAxes,
  yAxis: yAxes,
  series: series,
  graphic: graphics
});
</script>
</body>
</html>
